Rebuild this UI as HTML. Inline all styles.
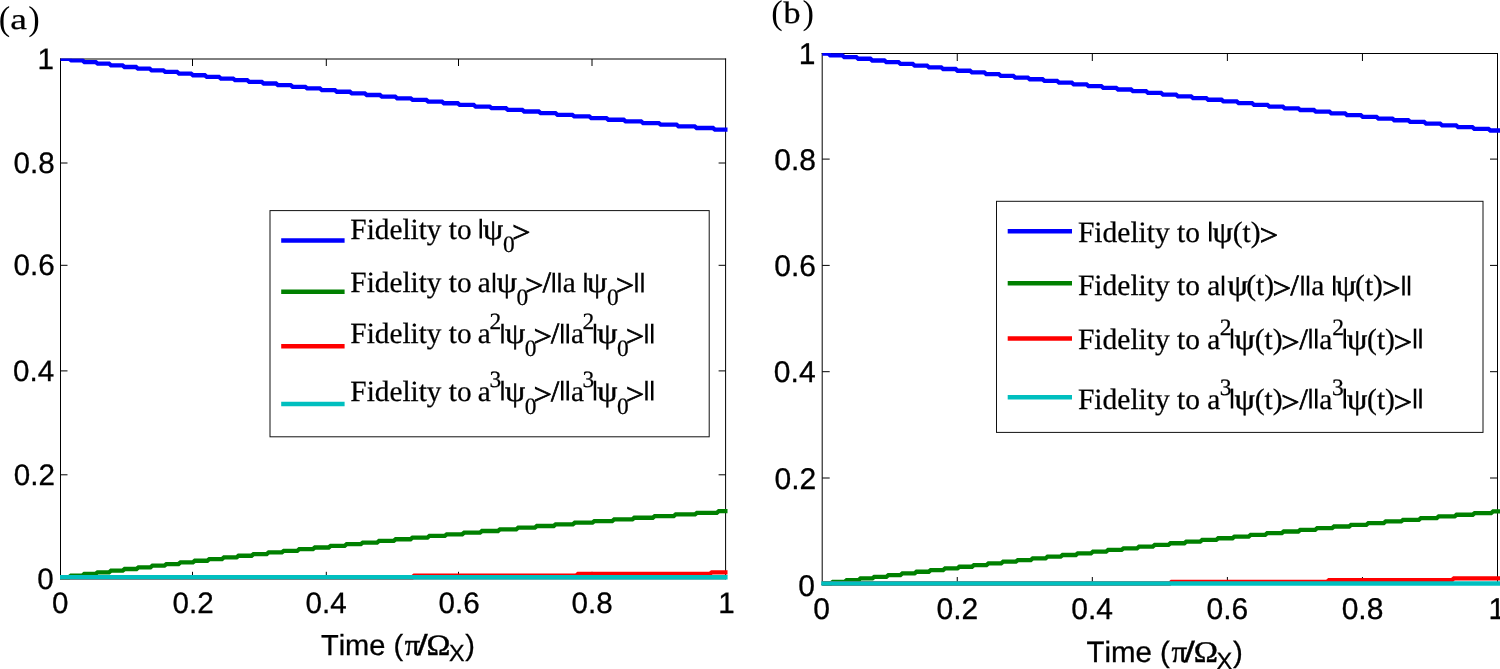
<!DOCTYPE html>
<html lang="en"><head><meta charset="utf-8"><title>Fidelity plots</title>
<style>
html,body{margin:0;padding:0;background:#fff;}
body{width:1500px;height:669px;overflow:hidden;}
svg{display:block;}
text{fill:#000;white-space:pre;font-kerning:none;font-variant-ligatures:none;text-rendering:geometricPrecision;}
.s{stroke:#000;stroke-width:0.25px;}
.t{stroke:#000;stroke-width:0.3px;}
.sb{stroke:#000;stroke-width:0.45px;}
.sc{stroke:#000;stroke-width:0.8px;}
</style></head><body>
<svg width="1500" height="669" viewBox="0 0 1500 669">
<rect width="1500" height="669" fill="#fff"/>
<text x="-1.32" y="30.30" font-family='"Liberation Serif", serif' font-size="34.50">(</text>
<text class="s" transform="translate(10.28,29.30) scale(1.2700,1.0000)" font-family='"Liberation Serif", serif' font-size="29.60">a</text>
<text x="28.19" y="30.30" font-family='"Liberation Serif", serif' font-size="34.50">)</text>
<text x="771.18" y="23.70" font-family='"Liberation Serif", serif' font-size="34.50">(</text>
<text class="s" transform="translate(783.50,22.70) scale(1.1000,1.0000)" font-family='"Liberation Serif", serif' font-size="31.00">b</text>
<text x="802.39" y="23.70" font-family='"Liberation Serif", serif' font-size="34.50">)</text>
<line x1="192.50" y1="59.00" x2="192.50" y2="66.00" stroke="#000" stroke-width="1.0"/>
<line x1="192.50" y1="578.80" x2="192.50" y2="571.80" stroke="#000" stroke-width="1.0"/>
<line x1="326.30" y1="59.00" x2="326.30" y2="66.00" stroke="#000" stroke-width="1.0"/>
<line x1="326.30" y1="578.80" x2="326.30" y2="571.80" stroke="#000" stroke-width="1.0"/>
<line x1="458.50" y1="59.00" x2="458.50" y2="66.00" stroke="#000" stroke-width="1.0"/>
<line x1="458.50" y1="578.80" x2="458.50" y2="571.80" stroke="#000" stroke-width="1.0"/>
<line x1="592.00" y1="59.00" x2="592.00" y2="66.00" stroke="#000" stroke-width="1.0"/>
<line x1="592.00" y1="578.80" x2="592.00" y2="571.80" stroke="#000" stroke-width="1.0"/>
<line x1="60.50" y1="163.00" x2="67.50" y2="163.00" stroke="#000" stroke-width="1.0"/>
<line x1="725.60" y1="163.00" x2="718.60" y2="163.00" stroke="#000" stroke-width="1.0"/>
<line x1="60.50" y1="265.30" x2="67.50" y2="265.30" stroke="#000" stroke-width="1.0"/>
<line x1="725.60" y1="265.30" x2="718.60" y2="265.30" stroke="#000" stroke-width="1.0"/>
<line x1="60.50" y1="370.90" x2="67.50" y2="370.90" stroke="#000" stroke-width="1.0"/>
<line x1="725.60" y1="370.90" x2="718.60" y2="370.90" stroke="#000" stroke-width="1.0"/>
<line x1="60.50" y1="474.80" x2="67.50" y2="474.80" stroke="#000" stroke-width="1.0"/>
<line x1="725.60" y1="474.80" x2="718.60" y2="474.80" stroke="#000" stroke-width="1.0"/>
<line x1="60.50" y1="58.50" x2="60.50" y2="579.30" stroke="#000" stroke-width="1.0"/>
<line x1="725.60" y1="58.50" x2="725.60" y2="579.30" stroke="#000" stroke-width="1.0"/>
<line x1="60.00" y1="59.00" x2="726.10" y2="59.00" stroke="#000" stroke-width="1.0"/>
<line x1="60.00" y1="578.80" x2="726.10" y2="578.80" stroke="#000" stroke-width="1.0"/>
<clipPath id="ca"><rect x="0" y="58.5" width="750" height="600"/></clipPath>
<g clip-path="url(#ca)">
<polyline points="60.50,58.75 69.31,58.75 71.31,60.40 82.45,60.40 84.45,62.05 95.75,62.05 97.75,63.70 109.05,63.70 111.05,65.35 122.52,65.35 124.52,66.99 135.99,66.99 137.99,68.64 149.62,68.64 151.62,70.29 163.26,70.29 165.26,71.94 177.06,71.94 179.06,73.59 191.02,73.59 193.02,75.24 204.82,75.24 206.82,76.89 218.96,76.89 220.96,78.54 233.09,78.54 235.09,80.18 247.22,80.18 249.22,81.83 261.69,81.83 263.69,83.48 275.99,83.48 277.99,85.13 290.62,85.13 292.62,86.78 305.25,86.78 307.25,88.43 319.89,88.43 321.89,90.08 334.85,90.08 336.85,91.73 349.82,91.73 351.82,93.38 364.78,93.38 366.78,95.02 379.91,95.02 381.91,96.67 395.21,96.67 397.21,98.32 410.67,98.32 412.67,99.97 426.30,99.97 428.30,101.62 441.93,101.62 443.93,103.27 457.73,103.27 459.73,104.92 473.69,104.92 475.69,106.57 489.65,106.57 491.65,108.22 505.95,108.22 507.95,109.86 522.24,109.86 524.24,111.51 538.70,111.51 540.70,113.16 555.50,113.16 557.50,114.81 572.29,114.81 574.29,116.46 589.25,116.46 591.25,118.11 606.38,118.11 608.38,119.76 623.67,119.76 625.67,121.41 641.13,121.41 643.13,123.05 658.76,123.05 660.76,124.70 676.55,124.70 678.55,126.35 694.67,126.35 696.67,128.00 712.96,128.00 714.96,129.65 727.50,129.65" fill="none" stroke="#0000ff" stroke-width="4.3" stroke-linejoin="miter"/>
<polyline points="60.50,577.25 68.98,577.25 70.98,575.60 82.28,575.60 84.28,573.95 95.58,573.95 97.58,572.29 109.05,572.29 111.05,570.64 122.68,570.64 124.68,568.99 136.49,568.99 138.49,567.34 150.45,567.34 152.45,565.68 164.42,565.68 166.42,564.03 178.55,564.03 180.55,562.38 192.85,562.38 194.85,560.73 207.32,560.73 209.32,559.07 221.95,559.07 223.95,557.42 236.58,557.42 238.58,555.77 251.55,555.77 253.55,554.12 266.68,554.12 268.68,552.46 281.81,552.46 283.81,550.81 297.27,550.81 299.27,549.16 312.90,549.16 314.90,547.50 328.70,547.50 330.70,545.85 344.66,545.85 346.66,544.20 360.79,544.20 362.79,542.55 377.09,542.55 379.09,540.89 393.71,540.89 395.71,539.24 410.51,539.24 412.51,537.59 427.47,537.59 429.47,535.94 444.76,535.94 446.76,534.28 462.22,534.28 464.22,532.63 480.01,532.63 482.01,530.98 497.97,530.98 499.97,529.33 516.26,529.33 518.26,527.67 534.88,527.67 536.88,526.02 553.67,526.02 555.67,524.37 572.79,524.37 574.79,522.72 592.41,522.72 594.41,521.07 612.20,521.07 614.20,519.41 632.32,519.41 634.32,517.76 652.77,517.76 654.77,516.11 673.72,516.11 675.72,514.46 695.00,514.46 697.00,512.80 716.79,512.80 718.79,511.15 727.50,511.15" fill="none" stroke="#008000" stroke-width="4.3" stroke-linejoin="miter"/>
<polyline points="60.50,577.25 412.30,577.25 414.30,575.60 576.10,575.60 578.10,573.95 709.80,573.95 711.80,572.30 727.50,572.30" fill="none" stroke="#ff0000" stroke-width="4.3" stroke-linejoin="miter"/>
<polyline points="60.00,577.25 727.60,577.25" fill="none" stroke="#00bfbf" stroke-width="4.5" stroke-linejoin="miter"/>
</g>
<text x="37.60" y="68.70" font-family='"Liberation Sans", sans-serif' font-size="29.60" class="t">1</text>
<text x="13.54" y="173.00" font-family='"Liberation Sans", sans-serif' font-size="29.60" class="t">0.8</text>
<text x="13.55" y="275.10" font-family='"Liberation Sans", sans-serif' font-size="29.60" class="t">0.6</text>
<text x="13.12" y="380.70" font-family='"Liberation Sans", sans-serif' font-size="29.60" class="t">0.4</text>
<text x="13.74" y="484.80" font-family='"Liberation Sans", sans-serif' font-size="29.60" class="t">0.2</text>
<text x="37.19" y="588.90" font-family='"Liberation Sans", sans-serif' font-size="29.60" class="t">0</text>
<text x="52.07" y="612.60" font-family='"Liberation Sans", sans-serif' font-size="29.60" class="t">0</text>
<text x="172.59" y="612.60" font-family='"Liberation Sans", sans-serif' font-size="29.60" class="t">0.2</text>
<text x="305.58" y="612.60" font-family='"Liberation Sans", sans-serif' font-size="29.60" class="t">0.4</text>
<text x="438.50" y="612.60" font-family='"Liberation Sans", sans-serif' font-size="29.60" class="t">0.6</text>
<text x="571.49" y="612.60" font-family='"Liberation Sans", sans-serif' font-size="29.60" class="t">0.8</text>
<text x="718.22" y="612.60" font-family='"Liberation Sans", sans-serif' font-size="29.60" class="t">1</text>
<text x="320.95" y="654.70" font-family='"Liberation Sans", sans-serif' font-size="29.00" class="t">Time (</text>
<text x="404.78" y="654.70" font-family='"Liberation Serif", serif' font-size="30.50" class="sb">π</text>
<text class="t" transform="translate(417.20,654.70) scale(1.3000,1.0000)" font-family='"Liberation Sans", sans-serif' font-size="29.00">/</text>
<text class="sb" transform="translate(426.54,654.70) scale(1.0900,1.0000)" font-family='"Liberation Serif", serif' font-size="29.50">Ω</text>
<text x="448.98" y="661.30" font-family='"Liberation Sans", sans-serif' font-size="23.30" class="t">X</text>
<text x="465.23" y="654.70" font-family='"Liberation Sans", sans-serif' font-size="29.00" class="t">)</text>
<rect x="270.0" y="210.6" width="439.20000000000005" height="226.20000000000002" fill="#fff" stroke="#111" stroke-width="1.0"/>
<line x1="281.20" y1="240.50" x2="344.60" y2="240.50" stroke="#0000ff" stroke-width="4.5"/>
<line x1="281.20" y1="291.70" x2="344.60" y2="291.70" stroke="#008000" stroke-width="4.5"/>
<line x1="281.20" y1="346.20" x2="344.60" y2="346.20" stroke="#ff0000" stroke-width="4.5"/>
<line x1="281.20" y1="404.10" x2="344.60" y2="404.10" stroke="#00bfbf" stroke-width="4.5"/>
<text x="350.36" y="238.50" font-family='"Liberation Serif", serif' font-size="29.30" class="s">Fidelity to</text>
<text transform="translate(476.73,234.23) scale(1.45,1)" font-family='"Liberation Sans", sans-serif' font-size="21.10">|</text>
<text class="sb" transform="translate(483.08,238.50) scale(1.1000,1.0000)" font-family='"Liberation Serif", serif' font-size="29.30">ψ</text>
<text x="503.11" y="251.90" font-family='"Liberation Serif", serif' font-size="23.40" class="s">0</text>
<text class="sc" transform="translate(512.16,241.50) scale(1.1000,1.0000)" font-family='"Liberation Serif", serif' font-size="29.30">&gt;</text>
<text x="350.36" y="291.90" font-family='"Liberation Serif", serif' font-size="29.30" class="s">Fidelity to</text>
<text x="477.77" y="291.90" font-family='"Liberation Serif", serif' font-size="29.30" class="s">a</text>
<text transform="translate(489.93,287.63) scale(1.45,1)" font-family='"Liberation Sans", sans-serif' font-size="21.10">|</text>
<text class="sb" transform="translate(496.68,291.90) scale(1.1000,1.0000)" font-family='"Liberation Serif", serif' font-size="29.30">ψ</text>
<text x="516.41" y="305.10" font-family='"Liberation Serif", serif' font-size="23.40" class="s">0</text>
<text class="sc" transform="translate(525.36,294.90) scale(1.1000,1.0000)" font-family='"Liberation Serif", serif' font-size="29.30">&gt;</text>
<text x="542.70" y="291.90" font-family='"Liberation Serif", serif' font-size="29.30" class="sc">/</text>
<text transform="translate(549.73,287.63) scale(1.45,1)" font-family='"Liberation Sans", sans-serif' font-size="21.10">|</text>
<text transform="translate(555.53,287.63) scale(1.45,1)" font-family='"Liberation Sans", sans-serif' font-size="21.10">|</text>
<text x="562.77" y="291.90" font-family='"Liberation Serif", serif' font-size="29.30" class="s">a</text>
<text transform="translate(581.43,287.63) scale(1.45,1)" font-family='"Liberation Sans", sans-serif' font-size="21.10">|</text>
<text class="sb" transform="translate(587.08,291.90) scale(1.1000,1.0000)" font-family='"Liberation Serif", serif' font-size="29.30">ψ</text>
<text x="607.01" y="305.10" font-family='"Liberation Serif", serif' font-size="23.40" class="s">0</text>
<text class="sc" transform="translate(615.96,294.90) scale(1.1000,1.0000)" font-family='"Liberation Serif", serif' font-size="29.30">&gt;</text>
<text transform="translate(632.53,287.63) scale(1.45,1)" font-family='"Liberation Sans", sans-serif' font-size="21.10">|</text>
<text transform="translate(638.43,287.63) scale(1.45,1)" font-family='"Liberation Sans", sans-serif' font-size="21.10">|</text>
<text x="350.36" y="343.00" font-family='"Liberation Serif", serif' font-size="29.30" class="s">Fidelity to</text>
<text x="477.77" y="343.00" font-family='"Liberation Serif", serif' font-size="29.30" class="s">a</text>
<text x="489.57" y="329.10" font-family='"Liberation Serif", serif' font-size="23.40" class="s">2</text>
<text transform="translate(498.43,338.73) scale(1.45,1)" font-family='"Liberation Sans", sans-serif' font-size="21.10">|</text>
<text class="sb" transform="translate(504.88,343.00) scale(1.1000,1.0000)" font-family='"Liberation Serif", serif' font-size="29.30">ψ</text>
<text x="524.81" y="356.20" font-family='"Liberation Serif", serif' font-size="23.40" class="s">0</text>
<text class="sc" transform="translate(533.66,346.00) scale(1.1000,1.0000)" font-family='"Liberation Serif", serif' font-size="29.30">&gt;</text>
<text x="550.90" y="343.00" font-family='"Liberation Serif", serif' font-size="29.30" class="sc">/</text>
<text transform="translate(558.13,338.73) scale(1.45,1)" font-family='"Liberation Sans", sans-serif' font-size="21.10">|</text>
<text transform="translate(563.73,338.73) scale(1.45,1)" font-family='"Liberation Sans", sans-serif' font-size="21.10">|</text>
<text x="570.97" y="343.00" font-family='"Liberation Serif", serif' font-size="29.30" class="s">a</text>
<text x="582.57" y="329.10" font-family='"Liberation Serif", serif' font-size="23.40" class="s">2</text>
<text transform="translate(591.03,338.73) scale(1.45,1)" font-family='"Liberation Sans", sans-serif' font-size="21.10">|</text>
<text class="sb" transform="translate(597.18,343.00) scale(1.1000,1.0000)" font-family='"Liberation Serif", serif' font-size="29.30">ψ</text>
<text x="617.11" y="356.20" font-family='"Liberation Serif", serif' font-size="23.40" class="s">0</text>
<text class="sc" transform="translate(626.06,346.00) scale(1.1000,1.0000)" font-family='"Liberation Serif", serif' font-size="29.30">&gt;</text>
<text transform="translate(642.53,338.73) scale(1.45,1)" font-family='"Liberation Sans", sans-serif' font-size="21.10">|</text>
<text transform="translate(648.13,338.73) scale(1.45,1)" font-family='"Liberation Sans", sans-serif' font-size="21.10">|</text>
<text x="350.36" y="400.70" font-family='"Liberation Serif", serif' font-size="29.30" class="s">Fidelity to</text>
<text x="477.77" y="400.70" font-family='"Liberation Serif", serif' font-size="29.30" class="s">a</text>
<text x="489.48" y="386.80" font-family='"Liberation Serif", serif' font-size="23.40" class="s">3</text>
<text transform="translate(498.43,396.43) scale(1.45,1)" font-family='"Liberation Sans", sans-serif' font-size="21.10">|</text>
<text class="sb" transform="translate(504.88,400.70) scale(1.1000,1.0000)" font-family='"Liberation Serif", serif' font-size="29.30">ψ</text>
<text x="524.81" y="413.90" font-family='"Liberation Serif", serif' font-size="23.40" class="s">0</text>
<text class="sc" transform="translate(533.66,403.70) scale(1.1000,1.0000)" font-family='"Liberation Serif", serif' font-size="29.30">&gt;</text>
<text x="550.90" y="400.70" font-family='"Liberation Serif", serif' font-size="29.30" class="sc">/</text>
<text transform="translate(558.13,396.43) scale(1.45,1)" font-family='"Liberation Sans", sans-serif' font-size="21.10">|</text>
<text transform="translate(563.73,396.43) scale(1.45,1)" font-family='"Liberation Sans", sans-serif' font-size="21.10">|</text>
<text x="570.97" y="400.70" font-family='"Liberation Serif", serif' font-size="29.30" class="s">a</text>
<text x="582.48" y="386.80" font-family='"Liberation Serif", serif' font-size="23.40" class="s">3</text>
<text transform="translate(591.03,396.43) scale(1.45,1)" font-family='"Liberation Sans", sans-serif' font-size="21.10">|</text>
<text class="sb" transform="translate(597.18,400.70) scale(1.1000,1.0000)" font-family='"Liberation Serif", serif' font-size="29.30">ψ</text>
<text x="617.11" y="413.90" font-family='"Liberation Serif", serif' font-size="23.40" class="s">0</text>
<text class="sc" transform="translate(626.06,403.70) scale(1.1000,1.0000)" font-family='"Liberation Serif", serif' font-size="29.30">&gt;</text>
<text transform="translate(642.53,396.43) scale(1.45,1)" font-family='"Liberation Sans", sans-serif' font-size="21.10">|</text>
<text transform="translate(648.13,396.43) scale(1.45,1)" font-family='"Liberation Sans", sans-serif' font-size="21.10">|</text>
<line x1="957.26" y1="53.50" x2="957.26" y2="61.00" stroke="#000" stroke-width="1.0"/>
<line x1="957.26" y1="584.50" x2="957.26" y2="577.00" stroke="#000" stroke-width="1.0"/>
<line x1="1092.32" y1="53.50" x2="1092.32" y2="61.00" stroke="#000" stroke-width="1.0"/>
<line x1="1092.32" y1="584.50" x2="1092.32" y2="577.00" stroke="#000" stroke-width="1.0"/>
<line x1="1227.38" y1="53.50" x2="1227.38" y2="61.00" stroke="#000" stroke-width="1.0"/>
<line x1="1227.38" y1="584.50" x2="1227.38" y2="577.00" stroke="#000" stroke-width="1.0"/>
<line x1="1362.44" y1="53.50" x2="1362.44" y2="61.00" stroke="#000" stroke-width="1.0"/>
<line x1="1362.44" y1="584.50" x2="1362.44" y2="577.00" stroke="#000" stroke-width="1.0"/>
<line x1="822.20" y1="159.10" x2="829.70" y2="159.10" stroke="#000" stroke-width="1.0"/>
<line x1="1497.50" y1="159.10" x2="1490.00" y2="159.10" stroke="#000" stroke-width="1.0"/>
<line x1="822.20" y1="265.40" x2="829.70" y2="265.40" stroke="#000" stroke-width="1.0"/>
<line x1="1497.50" y1="265.40" x2="1490.00" y2="265.40" stroke="#000" stroke-width="1.0"/>
<line x1="822.20" y1="371.70" x2="829.70" y2="371.70" stroke="#000" stroke-width="1.0"/>
<line x1="1497.50" y1="371.70" x2="1490.00" y2="371.70" stroke="#000" stroke-width="1.0"/>
<line x1="822.20" y1="478.00" x2="829.70" y2="478.00" stroke="#000" stroke-width="1.0"/>
<line x1="1497.50" y1="478.00" x2="1490.00" y2="478.00" stroke="#000" stroke-width="1.0"/>
<line x1="822.20" y1="53.00" x2="822.20" y2="585.00" stroke="#000" stroke-width="1.0"/>
<line x1="1497.50" y1="53.00" x2="1497.50" y2="585.00" stroke="#000" stroke-width="1.0"/>
<line x1="821.70" y1="53.50" x2="1498.00" y2="53.50" stroke="#000" stroke-width="1.0"/>
<line x1="821.70" y1="584.50" x2="1498.00" y2="584.50" stroke="#000" stroke-width="1.0"/>
<clipPath id="cb"><rect x="760" y="52.9" width="750" height="600"/></clipPath>
<g clip-path="url(#cb)">
<polyline points="822.20,53.65 828.29,53.65 830.29,55.36 842.30,55.36 844.30,57.07 856.32,57.07 858.32,58.77 870.33,58.77 872.33,60.48 884.34,60.48 886.34,62.19 898.52,62.19 900.52,63.90 912.70,63.90 914.70,65.60 927.05,65.60 929.05,67.31 941.23,67.31 943.23,69.02 955.58,69.02 957.58,70.73 969.93,70.73 971.93,72.44 984.28,72.44 986.28,74.14 998.80,74.14 1000.80,75.85 1013.32,75.85 1015.32,77.56 1027.84,77.56 1029.84,79.27 1042.53,79.27 1044.53,80.97 1057.05,80.97 1059.05,82.68 1071.74,82.68 1073.74,84.39 1086.59,84.39 1088.59,86.10 1101.28,86.10 1103.28,87.81 1116.14,87.81 1118.14,89.51 1130.99,89.51 1132.99,91.22 1146.02,91.22 1148.02,92.93 1161.04,92.93 1163.04,94.64 1176.07,94.64 1178.07,96.34 1191.10,96.34 1193.10,98.05 1206.29,98.05 1208.29,99.76 1221.48,99.76 1223.48,101.47 1236.68,101.47 1238.68,103.18 1252.04,103.18 1254.04,104.88 1267.40,104.88 1269.40,106.59 1282.77,106.59 1284.77,108.30 1298.30,108.30 1300.30,110.01 1313.83,110.01 1315.83,111.71 1329.36,111.71 1331.36,113.42 1345.06,113.42 1347.06,115.13 1360.76,115.13 1362.76,116.84 1376.47,116.84 1378.47,118.55 1392.33,118.55 1394.33,120.25 1408.20,120.25 1410.20,121.96 1424.07,121.96 1426.07,123.67 1440.11,123.67 1442.11,125.38 1456.15,125.38 1458.15,127.08 1472.36,127.08 1474.36,128.79 1488.40,128.79 1490.40,130.50 1502.00,130.50" fill="none" stroke="#0000ff" stroke-width="4.3" stroke-linejoin="miter"/>
<polyline points="822.20,583.50 830.82,583.50 832.82,581.82 844.67,581.82 846.67,580.15 858.51,580.15 860.51,578.47 872.35,578.47 874.35,576.79 886.37,576.79 888.37,575.12 900.38,575.12 902.38,573.44 914.56,573.44 916.56,571.76 928.74,571.76 930.74,570.09 943.09,570.09 945.09,568.41 957.44,568.41 959.44,566.73 971.96,566.73 973.96,565.06 986.48,565.06 988.48,563.38 1001.17,563.38 1003.17,561.70 1015.86,561.70 1017.86,560.03 1030.71,560.03 1032.71,558.35 1045.57,558.35 1047.57,556.67 1060.59,556.67 1062.59,555.00 1075.79,555.00 1077.79,553.32 1090.98,553.32 1092.98,551.64 1106.18,551.64 1108.18,549.97 1121.54,549.97 1123.54,548.29 1137.07,548.29 1139.07,546.61 1152.77,546.61 1154.77,544.93 1168.47,544.93 1170.47,543.26 1184.34,543.26 1186.34,541.58 1200.21,541.58 1202.21,539.90 1216.25,539.90 1218.25,538.23 1232.46,538.23 1234.46,536.55 1248.66,536.55 1250.66,534.87 1265.21,534.87 1267.21,533.20 1281.75,533.20 1283.75,531.52 1298.30,531.52 1300.30,529.84 1315.18,529.84 1317.18,528.17 1332.06,528.17 1334.06,526.49 1349.12,526.49 1351.12,524.81 1366.34,524.81 1368.34,523.14 1383.72,523.14 1385.72,521.46 1401.11,521.46 1403.11,519.78 1418.84,519.78 1420.84,518.11 1436.74,518.11 1438.74,516.43 1454.63,516.43 1456.63,514.75 1472.70,514.75 1474.70,513.08 1491.10,513.08 1493.10,511.40 1502.00,511.40" fill="none" stroke="#008000" stroke-width="4.3" stroke-linejoin="miter"/>
<polyline points="822.20,583.50 1169.60,583.50 1171.60,581.80 1327.00,581.80 1329.00,580.10 1451.90,580.10 1453.90,578.40 1502.00,578.40" fill="none" stroke="#ff0000" stroke-width="4.3" stroke-linejoin="miter"/>
<polyline points="821.30,583.50 1502.00,583.50" fill="none" stroke="#00bfbf" stroke-width="4.5" stroke-linejoin="miter"/>
</g>
<text x="798.70" y="63.60" font-family='"Liberation Sans", sans-serif' font-size="30.00" class="t">1</text>
<text x="774.30" y="169.65" font-family='"Liberation Sans", sans-serif' font-size="30.00" class="t">0.8</text>
<text x="774.31" y="275.95" font-family='"Liberation Sans", sans-serif' font-size="30.00" class="t">0.6</text>
<text x="773.87" y="382.25" font-family='"Liberation Sans", sans-serif' font-size="30.00" class="t">0.4</text>
<text x="774.50" y="488.55" font-family='"Liberation Sans", sans-serif' font-size="30.00" class="t">0.2</text>
<text x="798.29" y="595.75" font-family='"Liberation Sans", sans-serif' font-size="30.00" class="t">0</text>
<text x="813.26" y="619.40" font-family='"Liberation Sans", sans-serif' font-size="30.00" class="t">0</text>
<text x="936.58" y="619.40" font-family='"Liberation Sans", sans-serif' font-size="30.00" class="t">0.2</text>
<text x="1071.32" y="619.40" font-family='"Liberation Sans", sans-serif' font-size="30.00" class="t">0.4</text>
<text x="1206.60" y="619.40" font-family='"Liberation Sans", sans-serif' font-size="30.00" class="t">0.6</text>
<text x="1341.65" y="619.40" font-family='"Liberation Sans", sans-serif' font-size="30.00" class="t">0.8</text>
<text x="1488.50" y="619.40" font-family='"Liberation Sans", sans-serif' font-size="30.00" class="t">1</text>
<text x="1086.44" y="662.00" font-family='"Liberation Sans", sans-serif' font-size="29.46" class="t">Time (</text>
<text x="1171.61" y="662.00" font-family='"Liberation Serif", serif' font-size="30.99" class="sb">π</text>
<text class="t" transform="translate(1184.23,662.00) scale(1.3000,1.0000)" font-family='"Liberation Sans", sans-serif' font-size="29.46">/</text>
<text class="sb" transform="translate(1193.71,662.00) scale(1.0900,1.0000)" font-family='"Liberation Serif", serif' font-size="29.97">Ω</text>
<text x="1216.51" y="668.71" font-family='"Liberation Sans", sans-serif' font-size="23.67" class="t">X</text>
<text x="1233.03" y="662.00" font-family='"Liberation Sans", sans-serif' font-size="29.46" class="t">)</text>
<rect x="996.5" y="201.3" width="486.5" height="231.09999999999997" fill="#fff" stroke="#111" stroke-width="1.0"/>
<line x1="1007.70" y1="231.30" x2="1072.00" y2="231.30" stroke="#0000ff" stroke-width="4.5"/>
<line x1="1007.70" y1="283.30" x2="1072.00" y2="283.30" stroke="#008000" stroke-width="4.5"/>
<line x1="1007.70" y1="338.60" x2="1072.00" y2="338.60" stroke="#ff0000" stroke-width="4.5"/>
<line x1="1007.70" y1="397.30" x2="1072.00" y2="397.30" stroke="#00bfbf" stroke-width="4.5"/>
<text x="1077.95" y="241.60" font-family='"Liberation Serif", serif' font-size="29.50" class="s">Fidelity to</text>
<text transform="translate(1206.30,237.30) scale(1.45,1)" font-family='"Liberation Sans", sans-serif' font-size="21.25">|</text>
<text class="sb" transform="translate(1212.57,241.60) scale(1.1000,1.0000)" font-family='"Liberation Serif", serif' font-size="29.51">ψ</text>
<text x="1232.70" y="241.60" font-family='"Liberation Serif", serif' font-size="29.50" class="s">(t)</text>
<text class="sc" transform="translate(1259.75,244.62) scale(1.1000,1.0000)" font-family='"Liberation Serif", serif' font-size="29.51">&gt;</text>
<text x="1077.95" y="295.00" font-family='"Liberation Serif", serif' font-size="29.50" class="s">Fidelity to</text>
<text x="1207.16" y="295.00" font-family='"Liberation Serif", serif' font-size="29.50" class="s">a</text>
<text transform="translate(1219.00,290.70) scale(1.45,1)" font-family='"Liberation Sans", sans-serif' font-size="21.25">|</text>
<text class="sb" transform="translate(1227.57,295.00) scale(1.1000,1.0000)" font-family='"Liberation Serif", serif' font-size="29.51">ψ</text>
<text x="1246.30" y="295.00" font-family='"Liberation Serif", serif' font-size="29.50" class="s">(t)</text>
<text class="sc" transform="translate(1272.75,298.02) scale(1.1000,1.0000)" font-family='"Liberation Serif", serif' font-size="29.51">&gt;</text>
<text x="1290.60" y="295.00" font-family='"Liberation Serif", serif' font-size="29.50" class="sc">/</text>
<text transform="translate(1298.40,290.70) scale(1.45,1)" font-family='"Liberation Sans", sans-serif' font-size="21.25">|</text>
<text transform="translate(1304.00,290.70) scale(1.45,1)" font-family='"Liberation Sans", sans-serif' font-size="21.25">|</text>
<text x="1311.16" y="295.00" font-family='"Liberation Serif", serif' font-size="29.50" class="s">a</text>
<text transform="translate(1330.20,290.70) scale(1.45,1)" font-family='"Liberation Sans", sans-serif' font-size="21.25">|</text>
<text class="sb" transform="translate(1335.77,295.00) scale(1.1000,1.0000)" font-family='"Liberation Serif", serif' font-size="29.51">ψ</text>
<text x="1355.10" y="295.00" font-family='"Liberation Serif", serif' font-size="29.50" class="s">(t)</text>
<text class="sc" transform="translate(1382.35,298.02) scale(1.1000,1.0000)" font-family='"Liberation Serif", serif' font-size="29.51">&gt;</text>
<text transform="translate(1399.40,290.70) scale(1.45,1)" font-family='"Liberation Sans", sans-serif' font-size="21.25">|</text>
<text transform="translate(1405.00,290.70) scale(1.45,1)" font-family='"Liberation Sans", sans-serif' font-size="21.25">|</text>
<text x="1077.95" y="348.70" font-family='"Liberation Serif", serif' font-size="29.50" class="s">Fidelity to</text>
<text x="1207.16" y="348.70" font-family='"Liberation Serif", serif' font-size="29.50" class="s">a</text>
<text x="1219.76" y="335.10" font-family='"Liberation Serif", serif' font-size="23.56" class="s">2</text>
<text transform="translate(1228.10,344.40) scale(1.45,1)" font-family='"Liberation Sans", sans-serif' font-size="21.25">|</text>
<text class="sb" transform="translate(1234.57,348.70) scale(1.1000,1.0000)" font-family='"Liberation Serif", serif' font-size="29.51">ψ</text>
<text x="1254.70" y="348.70" font-family='"Liberation Serif", serif' font-size="29.50" class="s">(t)</text>
<text class="sc" transform="translate(1281.35,351.72) scale(1.1000,1.0000)" font-family='"Liberation Serif", serif' font-size="29.51">&gt;</text>
<text x="1299.40" y="348.70" font-family='"Liberation Serif", serif' font-size="29.50" class="sc">/</text>
<text transform="translate(1306.60,344.40) scale(1.45,1)" font-family='"Liberation Sans", sans-serif' font-size="21.25">|</text>
<text transform="translate(1312.20,344.40) scale(1.45,1)" font-family='"Liberation Sans", sans-serif' font-size="21.25">|</text>
<text x="1319.36" y="348.70" font-family='"Liberation Serif", serif' font-size="29.50" class="s">a</text>
<text x="1332.16" y="335.10" font-family='"Liberation Serif", serif' font-size="23.56" class="s">2</text>
<text transform="translate(1340.70,344.40) scale(1.45,1)" font-family='"Liberation Sans", sans-serif' font-size="21.25">|</text>
<text class="sb" transform="translate(1346.97,348.70) scale(1.1000,1.0000)" font-family='"Liberation Serif", serif' font-size="29.51">ψ</text>
<text x="1367.10" y="348.70" font-family='"Liberation Serif", serif' font-size="29.50" class="s">(t)</text>
<text class="sc" transform="translate(1393.75,351.72) scale(1.1000,1.0000)" font-family='"Liberation Serif", serif' font-size="29.51">&gt;</text>
<text transform="translate(1411.00,344.40) scale(1.45,1)" font-family='"Liberation Sans", sans-serif' font-size="21.25">|</text>
<text transform="translate(1416.60,344.40) scale(1.45,1)" font-family='"Liberation Sans", sans-serif' font-size="21.25">|</text>
<text x="1077.95" y="408.50" font-family='"Liberation Serif", serif' font-size="29.50" class="s">Fidelity to</text>
<text x="1207.16" y="408.50" font-family='"Liberation Serif", serif' font-size="29.50" class="s">a</text>
<text x="1219.67" y="394.90" font-family='"Liberation Serif", serif' font-size="23.56" class="s">3</text>
<text transform="translate(1228.10,404.20) scale(1.45,1)" font-family='"Liberation Sans", sans-serif' font-size="21.25">|</text>
<text class="sb" transform="translate(1234.57,408.50) scale(1.1000,1.0000)" font-family='"Liberation Serif", serif' font-size="29.51">ψ</text>
<text x="1254.70" y="408.50" font-family='"Liberation Serif", serif' font-size="29.50" class="s">(t)</text>
<text class="sc" transform="translate(1281.35,411.52) scale(1.1000,1.0000)" font-family='"Liberation Serif", serif' font-size="29.51">&gt;</text>
<text x="1299.40" y="408.50" font-family='"Liberation Serif", serif' font-size="29.50" class="sc">/</text>
<text transform="translate(1306.60,404.20) scale(1.45,1)" font-family='"Liberation Sans", sans-serif' font-size="21.25">|</text>
<text transform="translate(1312.20,404.20) scale(1.45,1)" font-family='"Liberation Sans", sans-serif' font-size="21.25">|</text>
<text x="1319.36" y="408.50" font-family='"Liberation Serif", serif' font-size="29.50" class="s">a</text>
<text x="1332.07" y="394.90" font-family='"Liberation Serif", serif' font-size="23.56" class="s">3</text>
<text transform="translate(1340.70,404.20) scale(1.45,1)" font-family='"Liberation Sans", sans-serif' font-size="21.25">|</text>
<text class="sb" transform="translate(1346.97,408.50) scale(1.1000,1.0000)" font-family='"Liberation Serif", serif' font-size="29.51">ψ</text>
<text x="1367.10" y="408.50" font-family='"Liberation Serif", serif' font-size="29.50" class="s">(t)</text>
<text class="sc" transform="translate(1393.75,411.52) scale(1.1000,1.0000)" font-family='"Liberation Serif", serif' font-size="29.51">&gt;</text>
<text transform="translate(1411.00,404.20) scale(1.45,1)" font-family='"Liberation Sans", sans-serif' font-size="21.25">|</text>
<text transform="translate(1416.60,404.20) scale(1.45,1)" font-family='"Liberation Sans", sans-serif' font-size="21.25">|</text>
</svg>
</body></html>
